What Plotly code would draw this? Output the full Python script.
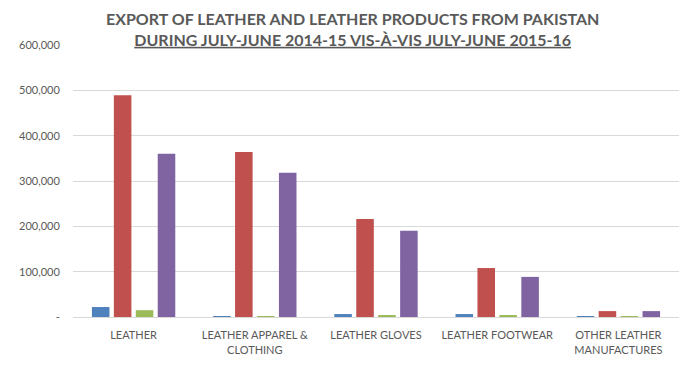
import plotly.graph_objects as go

categories = ["LEATHER", "LEATHER APPAREL &<br>CLOTHING", "LEATHER GLOVES",
              "LEATHER FOOTWEAR", "OTHER LEATHER<br>MANUFACTURES"]
series_names = ["Quantity 2014-15", "Value 2014-15", "Quantity 2015-16", "Value 2015-16"]
qty_2014 = [22000, 1500, 6500, 6500, 1500]
val_2014 = [489000, 364000, 216000, 108000, 13000]
qty_2015 = [15000, 1000, 4000, 4200, 200]
val_2015 = [360000, 318000, 190000, 88500, 13000]
colors = ["#4F81BD", "#C0504D", "#9BBB59", "#8064A2"]

ytick_vals = [0, 100000, 200000, 300000, 400000, 500000, 600000]
ytick_text = ["-", "100,000", "200,000", "300,000", "400,000", "500,000", "600,000"]

FONT = "Lato, Open Sans, sans-serif"

# page body has an 8px margin; figure is sized/margined to compensate
PAGE_OFF = 8
W, H = 690 - PAGE_OFF, 390 - PAGE_OFF
ML, MR, MT, MB = 62 - PAGE_OFF, 11, 45 - PAGE_OFF, 73
plot_w = W - ML - MR
plot_h = H - MT - MB

fig = go.Figure()
for name, vals, c in zip(series_names, [qty_2014, val_2014, qty_2015, val_2015], colors):
    fig.add_trace(go.Bar(x=categories, y=vals, name=name, marker_color=c,
                         marker_line_width=0))

title_cx = 347  # page px
title_top = 7   # page px
fig.add_annotation(
    text="<b>EXPORT OF LEATHER AND LEATHER PRODUCTS FROM PAKISTAN</b><br><b><u>DURING JULY-JUNE 2014-15 VIS-À-VIS JULY-JUNE 2015-16</u></b>",
    xref="paper", yref="paper",
    x=(title_cx - 62) / plot_w, y=1 + (45 - title_top) / plot_h,
    xanchor="center", yanchor="top", showarrow=False,
    font=dict(family=FONT, size=16, color="#595959"),
    align="center",
)

fig.update_layout(
    width=W, height=H,
    margin=dict(l=ML, r=MR, t=MT, b=MB),
    paper_bgcolor="white", plot_bgcolor="white",
    barmode="group", bargap=0.276, bargroupgap=0.2,
    showlegend=False,
    font=dict(family=FONT, color="#595959", size=11),
    xaxis=dict(
        type="category",
        showgrid=False, showline=True, linecolor="#d9d9d9", linewidth=1,
        ticks="", ticklabelstandoff=8,
        tickfont=dict(size=11, color="#595959"),
    ),
    yaxis=dict(
        range=[0, 600000], tickvals=ytick_vals, ticktext=ytick_text,
        showgrid=True, gridcolor="#d9d9d9", gridwidth=1,
        zeroline=False, showline=False,
        ticks="outside", ticklen=10, tickcolor="rgba(0,0,0,0)",
        tickfont=dict(size=11, color="#595959"),
    ),
)

fig.write_html("out.html")
